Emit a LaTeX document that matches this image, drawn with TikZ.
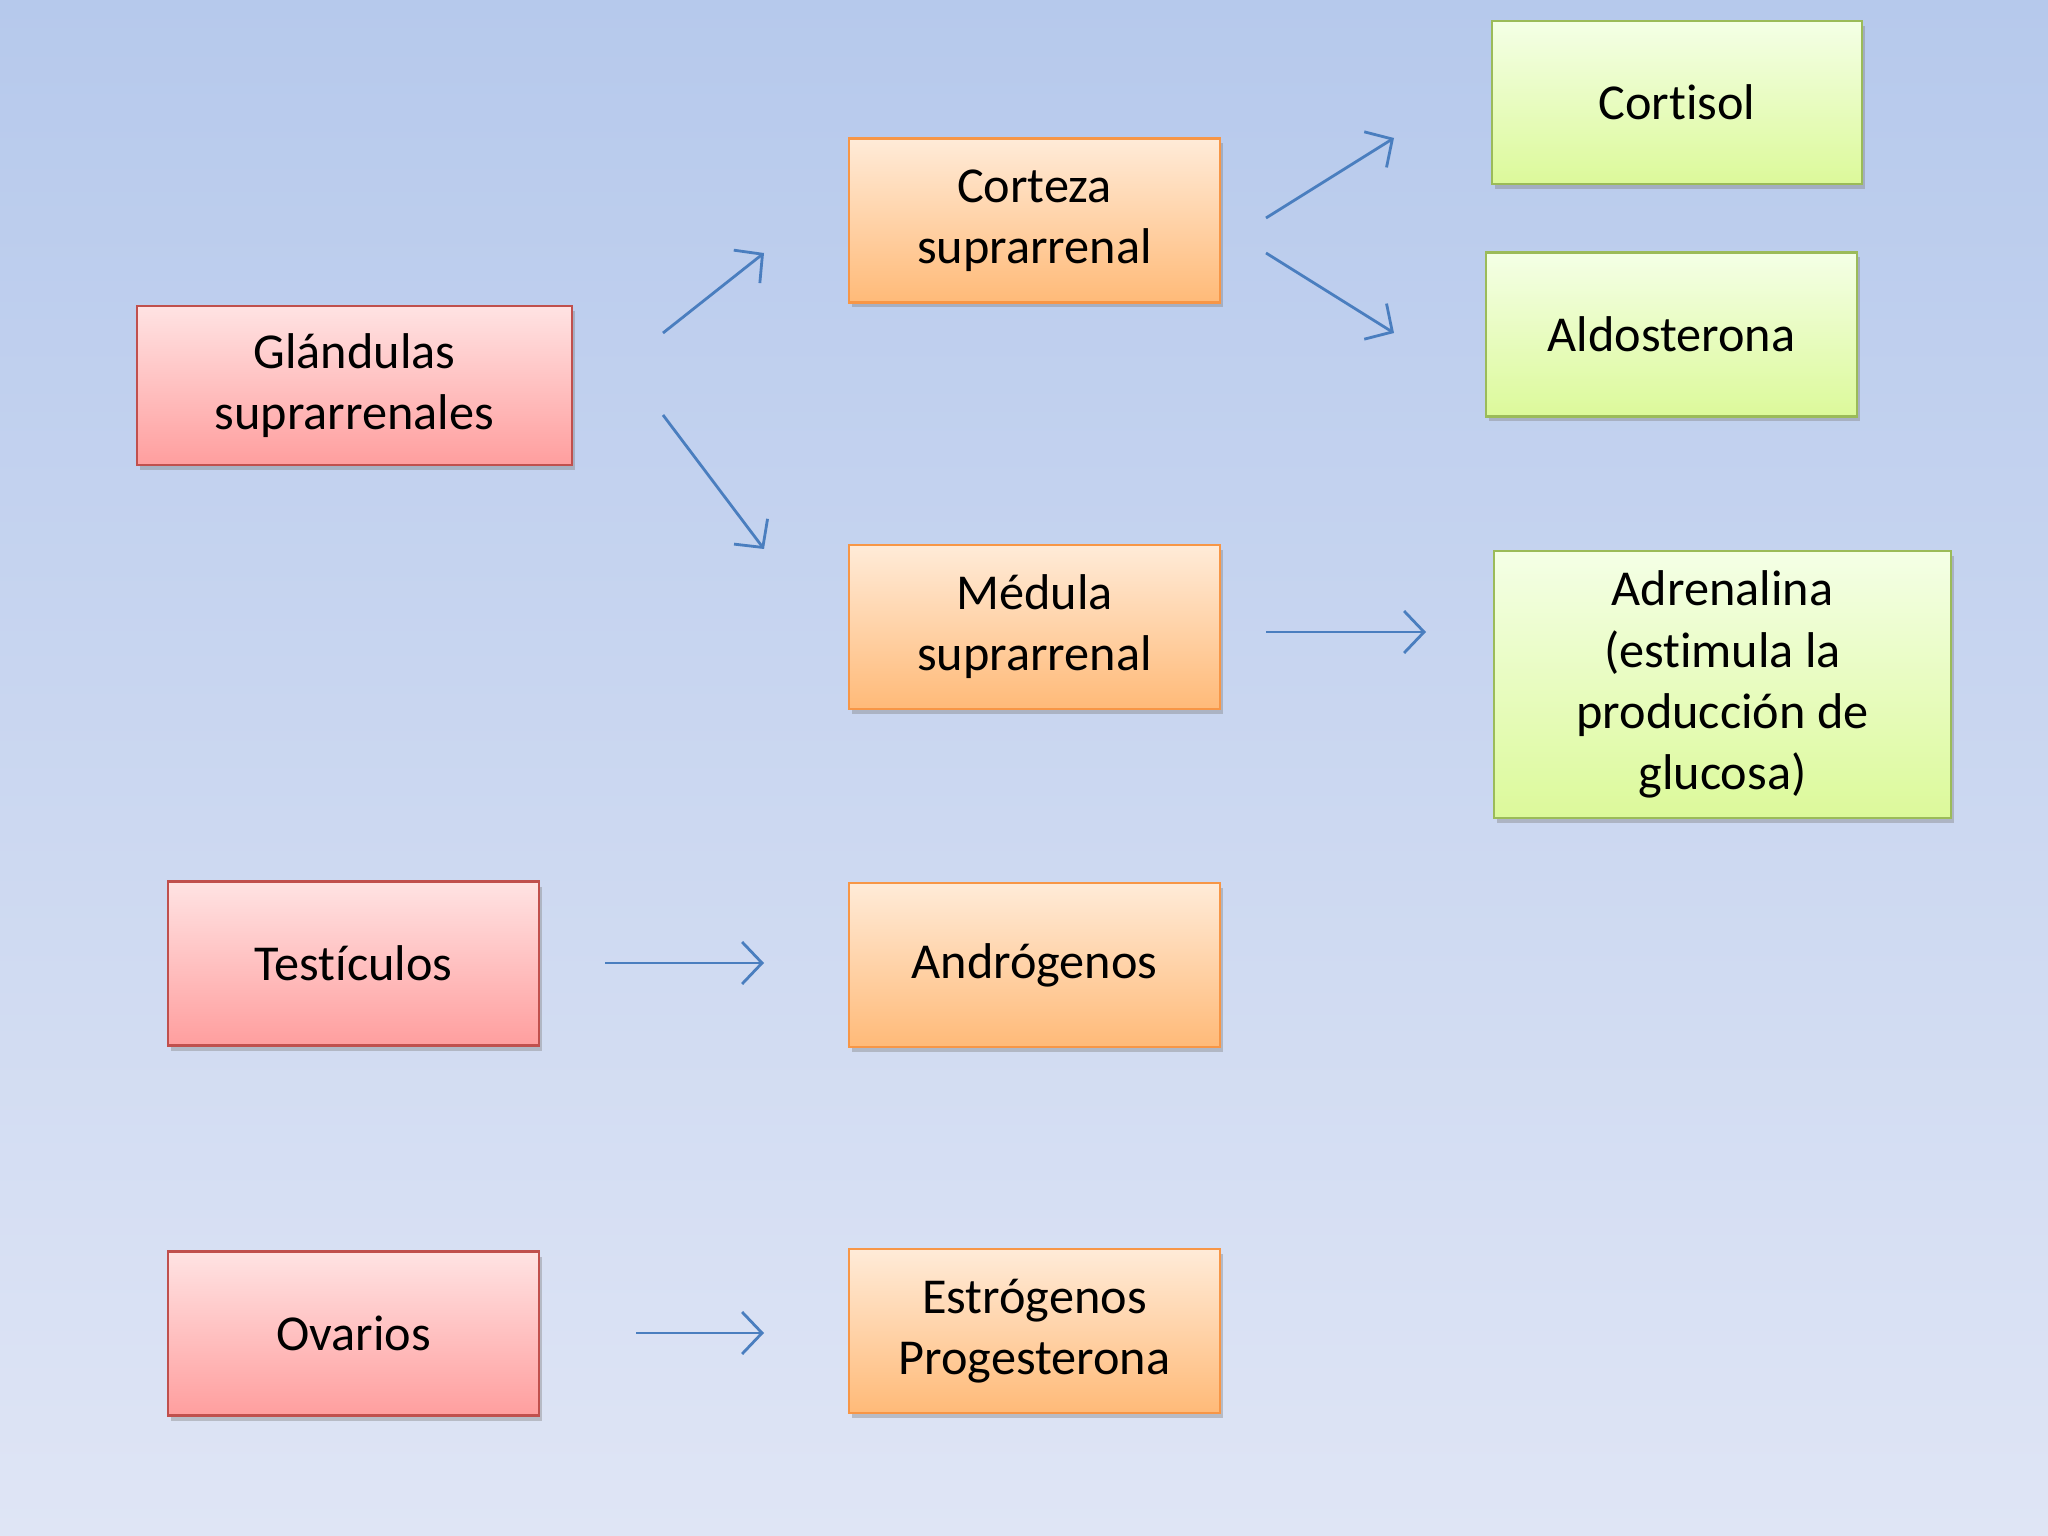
\documentclass[tikz,border=0pt]{standalone}
\usepackage{fontspec}
\setmainfont[Ligatures=NoCommon]{Carlito}
\usetikzlibrary{arrows.meta,positioning,shadows}
\definecolor{bgtop}{HTML}{B6C9EC}
\definecolor{bgbot}{HTML}{DFE5F5}
\definecolor{flecha}{HTML}{4A7EBF}
\definecolor{rosaB}{HTML}{C0504D}
\definecolor{rosaT}{HTML}{FFE3E3}
\definecolor{rosaF}{HTML}{FF9E9E}
\definecolor{naranjaB}{HTML}{F79646}
\definecolor{naranjaT}{HTML}{FFEBD8}
\definecolor{naranjaF}{HTML}{FFBA78}
\definecolor{verdeB}{HTML}{9BBB59}
\definecolor{verdeT}{HTML}{F4FFE6}
\definecolor{verdeF}{HTML}{DCF99A}
\tikzset{
  caja/.style={rectangle, line width=0.8pt, align=center, inner sep=0pt,
               minimum width=3.71cm, minimum height=1.64cm,
               font=\fontsize{14.3}{17.4}\selectfont,
               drop shadow={shadow xshift=0.03cm, shadow yshift=-0.05cm,
                            fill=black!50, opacity=0.4}},
  glandula/.style={caja, draw=rosaB, top color=rosaT, bottom color=rosaF},
  hormona/.style={caja, draw=naranjaB, top color=naranjaT, bottom color=naranjaF},
  efecto/.style={caja, draw=verdeB, top color=verdeT, bottom color=verdeF},
  flechita/.style={-{Straight Barb[length=2mm,width=4.2mm]}, line width=0.8pt, draw=flecha}
}
\begin{document}
\begin{tikzpicture}[x=1cm,y=1cm]
  \shade[top color=bgtop, bottom color=bgbot] (0,0) rectangle (20.48,-15.36);
  \useasboundingbox (0,0) rectangle (20.48,-15.36);
  % glandulas
  \node[glandula,minimum width=4.35cm,minimum height=1.59cm] (glan) at (3.545,-3.855) {Glándulas\\suprarrenales};
  \node[glandula] (test) at (3.535,-9.635) {Testículos};
  \node[glandula] (ova)  at (3.535,-13.335) {Ovarios};
  % hormonas
  \node[hormona] (cort) at (10.345,-2.205) {Corteza\\suprarrenal};
  \node[hormona] (med)  at (10.345,-6.27) {Médula\\suprarrenal};
  \node[hormona] (andr) at (10.345,-9.65) {Andrógenos};
  \node[hormona] (estr) at (10.345,-13.31) {Estrógenos\\Progesterona};
  % efectos
  \node[efecto,minimum width=3.70cm,minimum height=1.63cm] (cortis) at (16.77,-1.025) {Cortisol};
  \node[efecto] (aldo) at (16.715,-3.345) {Aldosterona};
  \node[efecto,minimum width=4.57cm,minimum height=2.67cm] (adre) at (17.225,-6.845) {Adrenalina\\(estimula la\\producción de\\glucosa)};
  % extremos de las flechas
  \coordinate (g1) at (6.63,-3.33);   \coordinate (g1f) at (7.64,-2.53);
  \coordinate (g2) at (6.63,-4.15);   \coordinate (g2f) at (7.64,-5.49);
  \coordinate (c1) at (12.66,-2.18);  \coordinate (c1f) at (13.94,-1.38);
  \coordinate (c2) at (12.66,-2.53);  \coordinate (c2f) at (13.94,-3.33);
  \coordinate (m1) at (12.66,-6.32);  \coordinate (m1f) at (14.26,-6.32);
  \coordinate (t1) at (6.05,-9.63);   \coordinate (t1f) at (7.64,-9.63);
  \coordinate (o1) at (6.36,-13.33);  \coordinate (o1f) at (7.64,-13.33);
  \draw[flechita] (g1) -- (g1f);
  \draw[flechita] (g2) -- (g2f);
  \draw[flechita] (c1) -- (c1f);
  \draw[flechita] (c2) -- (c2f);
  \draw[flechita] (m1) -- (m1f);
  \draw[flechita] (t1) -- (t1f);
  \draw[flechita] (o1) -- (o1f);
\end{tikzpicture}
\end{document}
